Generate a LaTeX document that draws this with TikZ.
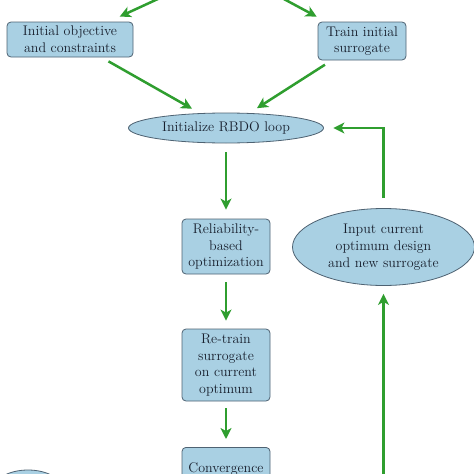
\documentclass[tikz,border=0pt]{standalone}
\usetikzlibrary{arrows.meta,shapes.geometric}
\definecolor{boxfill}{HTML}{A9D0E3}
\definecolor{boxline}{HTML}{4E6272}
\definecolor{arrgreen}{HTML}{2F9E2F}
\definecolor{txt}{HTML}{18202E}
\begin{document}
\begin{tikzpicture}[x=1pt,y=-1pt,
  every node/.style={font=\fontsize{14}{16.7}\selectfont, text=txt, align=center, inner sep=0pt},
  rbox/.style={rectangle, rounded corners=4pt, draw=boxline, line width=0.8pt, fill=boxfill},
  ebox/.style={ellipse, draw=boxline, line width=0.8pt, fill=boxfill},
  arr/.style={draw=arrgreen, line width=2.5pt, -{Stealth[length=11pt,width=11pt,inset=3pt]}}]
\useasboundingbox (0,0) rectangle (474,474);
\clip (0,0) rectangle (474,474);
\node[rbox, minimum width=126pt, minimum height=35pt] (obj) at (70,39.5) {Initial objective\\and constraints};
\node[rbox, minimum width=88pt, minimum height=38pt] (surr) at (362,41) {Train initial\\surrogate};
\node[ebox, minimum width=195pt, minimum height=30pt] (init) at (226,128) {Initialize RBDO loop};
\node[rbox, minimum width=88pt, minimum height=55pt] (rbo) at (226,246.5) {Reliability-\\based\\optimization};
\node[rbox, minimum width=88pt, minimum height=72pt] (retrain) at (226,365) {Re-train\\surrogate\\on current\\optimum};
\node[rbox, minimum width=88pt, minimum height=60pt, anchor=north] (conv) at (226,447) {Convergence\\of objective};
\node[ebox, minimum width=182pt, minimum height=77pt] (input) at (383.5,247) {Input current\\optimum design\\and new surrogate};
\node[ebox, minimum width=70pt, minimum height=40pt] (bl) at (28,490) {};
\coordinate (tl) at (160,-2);
\coordinate (tr) at (282,-2);
\coordinate (lp) at (383.5,198);
\coordinate (bt) at (383.5,480);
\draw[arr, shorten >=12pt] (tl) -- (obj);
\draw[arr, shorten >=10.5pt] (tr) -- (surr);
\draw[arr, shorten <=8pt, shorten >=9pt] (obj) -- (init);
\draw[arr, shorten <=8pt, shorten >=9pt] (surr) -- (init);
\draw[arr, shorten <=9pt, shorten >=9pt] (init) -- (rbo);
\draw[arr, shorten <=8pt, shorten >=8pt] (rbo) -- (retrain);
\draw[arr, shorten <=7pt, shorten >=8pt] (retrain) -- (conv);
\draw[arr, shorten >=8pt] (bt) -- (input);
\draw[arr, shorten >=9.5pt] (lp) |- (init);
\end{tikzpicture}
\end{document}
